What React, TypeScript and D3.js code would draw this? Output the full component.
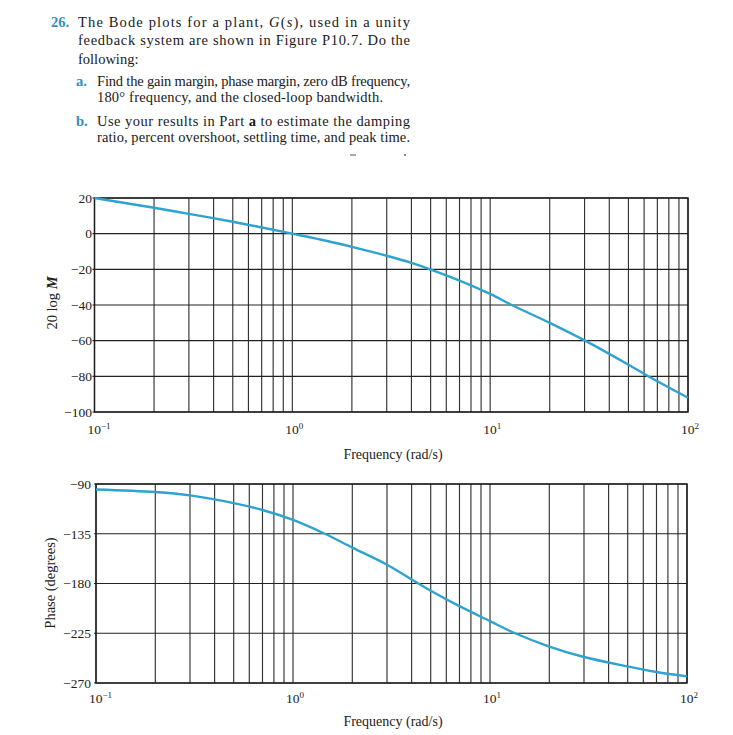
import React from "react";
import * as d3 from "d3";

// ---- data ----
const magFreq = [0.1, 0.2, 0.3, 0.5, 0.7, 1, 1.5, 2, 3, 4, 4.97, 7, 10, 12.85, 20, 30.2, 50, 62, 100];
const magDb = [20, 14.5, 11.1, 6.7, 3.5, 0, -4.1, -7.4, -12.4, -16.4, -20, -26.3, -33.8, -40, -50, -60, -73.5, -79.5, -92];

const phFreq = [0.1, 0.2, 0.3, 0.5, 0.7, 1, 1.45, 2, 3, 4.33, 5, 7, 10, 13.4, 20, 30, 50, 70, 100];
const phDeg = [-95, -97.3, -100.3, -107.3, -113.5, -122.5, -135, -147.5, -163, -180, -186.5, -200.5, -214, -225, -237, -246.5, -255, -260, -264];

const magTicks = [20, 0, -20, -40, -60, -80, -100];
const phTicks = [-90, -135, -180, -225, -270];
const decadeTicks = [0.1, 1, 10, 100];
const decadeExp = ["−1", "0", "1", "2"];

const BLUE = "#2ea3cf";
const TEXTBLUE = "#2f8fc4";
const SERIF = "'Liberation Serif', 'DejaVu Serif', serif";

function minorTicks(): number[] {
  const out: number[] = [];
  for (let e = -1; e < 2; e++) {
    for (let m = 1; m <= 9; m++) out.push(m * Math.pow(10, e));
  }
  out.push(100);
  return out;
}

function fmt(v: number) {
  return v < 0 ? "−" + Math.abs(v) : String(v);
}

type PanelProps = {
  freq: number[];
  vals: number[];
  ticks: number[];
  domain: [number, number];
  xRange: [number, number];
  yRange: [number, number];
  tickLabelY: number;
  freqLabelY: number;
  yLabel: React.ReactNode;
  yLabelX: number;
  yLabelY: number;
  yTickRight: number;
};

function Panel(p: PanelProps) {
  const x = d3.scaleLog().domain([0.1, 100]).range(p.xRange);
  const y = d3.scaleLinear().domain(p.domain).range(p.yRange);
  const line = d3
    .line<number>()
    .x((_, i) => x(p.freq[i]))
    .y((d) => y(d))
    .curve(d3.curveCatmullRom.alpha(0.5));
  const verts = minorTicks();
  const [x0, x1] = p.xRange;
  return (
    <g>
      {verts.map((f, i) => (
        <line key={"v" + i} x1={x(f)} x2={x(f)} y1={p.yRange[0]} y2={p.yRange[1]} stroke="#333" strokeWidth={1.15} />
      ))}
      {p.ticks.map((t, i) => (
        <line key={"h" + i} x1={x0 - 2} x2={x1} y1={y(t)} y2={y(t)} stroke="#222" strokeWidth={1.2} />
      ))}
      <rect x={x0} y={p.yRange[1]} width={x1 - x0} height={p.yRange[0] - p.yRange[1]} fill="none" stroke="#1c1c1c" strokeWidth={1.4} />
      <path d={line(p.vals) || ""} fill="none" stroke={BLUE} strokeWidth={2.4} strokeLinejoin="round" />
      {p.ticks.map((t, i) => (
        <text key={"yl" + i} x={p.yTickRight} y={y(t) + 4.8} textAnchor="end" fontSize={13.5} fontFamily={SERIF} fill="#222">
          {fmt(t)}
        </text>
      ))}
      {decadeTicks.map((f, i) => (
        <text key={"xl" + i} x={x(f) - 7} y={p.tickLabelY} fontSize={13.5} fontFamily={SERIF} fill="#222">
          10
          <tspan dy={-5.5} fontSize={9}>
            {decadeExp[i]}
          </tspan>
        </text>
      ))}
      <text x={393} y={p.freqLabelY} textAnchor="middle" fontSize={14} fontFamily={SERIF} fill="#222">
        Frequency (rad/s)
      </text>
      <text
        transform={`translate(${p.yLabelX},${p.yLabelY}) rotate(-90)`}
        textAnchor="middle"
        fontSize={14.5}
        fontFamily={SERIF}
        fill="#222"
      >
        {p.yLabel}
      </text>
    </g>
  );
}

export default function App() {
  const tx = { fontFamily: SERIF, fontSize: 14.5, fill: "#1a1a1a" } as const;
  const bl = { fontFamily: SERIF, fontSize: 14.5, fill: TEXTBLUE, fontWeight: "bold" } as const;
  return (
    <svg width={733} height={735} style={{ position: "absolute", left: 0, top: 0, background: "#fff" }}>
      <rect x={0} y={0} width={733} height={735} fill="#fff" />
      {/* problem text */}
      <text x={51} y={26.5} {...bl}>26.</text>
      <text x={78} y={26.5} {...tx} textLength={332} lengthAdjust="spacing">
        The Bode plots for a plant, <tspan fontStyle="italic">G</tspan>(<tspan fontStyle="italic">s</tspan>), used in a unity
      </text>
      <text x={78} y={45} {...tx} textLength={332} lengthAdjust="spacing">
        feedback system are shown in Figure P10.7. Do the
      </text>
      <text x={78} y={63.5} {...tx}>following:</text>
      <text x={76} y={85.5} {...bl}>a.</text>
      <text x={97} y={85.5} {...tx} textLength={313} lengthAdjust="spacing">
        Find the gain margin, phase margin, zero dB frequency,
      </text>
      <text x={97} y={102} {...tx} textLength={286} lengthAdjust="spacing">
        180° frequency, and the closed-loop bandwidth.
      </text>
      <text x={76} y={126} {...bl}>b.</text>
      <text x={97} y={126} {...tx} textLength={313} lengthAdjust="spacing">
        Use your results in Part <tspan fontWeight="bold">a</tspan> to estimate the damping
      </text>
      <text x={97} y={142} {...tx} textLength={313} lengthAdjust="spacing">
        ratio, percent overshoot, settling time, and peak time.
      </text>
      <line x1={350} x2={356} y1={155} y2={155} stroke="#555" strokeWidth={1} />
      <circle cx={405} cy={155} r={0.9} fill="#555" />

      <Panel
        freq={magFreq}
        vals={magDb}
        ticks={magTicks}
        domain={[-100, 20]}
        xRange={[94.5, 688]}
        yRange={[412, 198]}
        tickLabelY={434}
        freqLabelY={459}
        yLabel={
          <>
            20 log <tspan fontStyle="italic" fontWeight="bold">M</tspan>
          </>
        }
        yLabelX={57}
        yLabelY={303}
        yTickRight={92}
      />
      <Panel
        freq={phFreq}
        vals={phDeg}
        ticks={phTicks}
        domain={[-270, -90]}
        xRange={[96, 687]}
        yRange={[683, 484]}
        tickLabelY={703}
        freqLabelY={726}
        yLabel="Phase (degrees)"
        yLabelX={55}
        yLabelY={583}
        yTickRight={91}
      />
    </svg>
  );
}
